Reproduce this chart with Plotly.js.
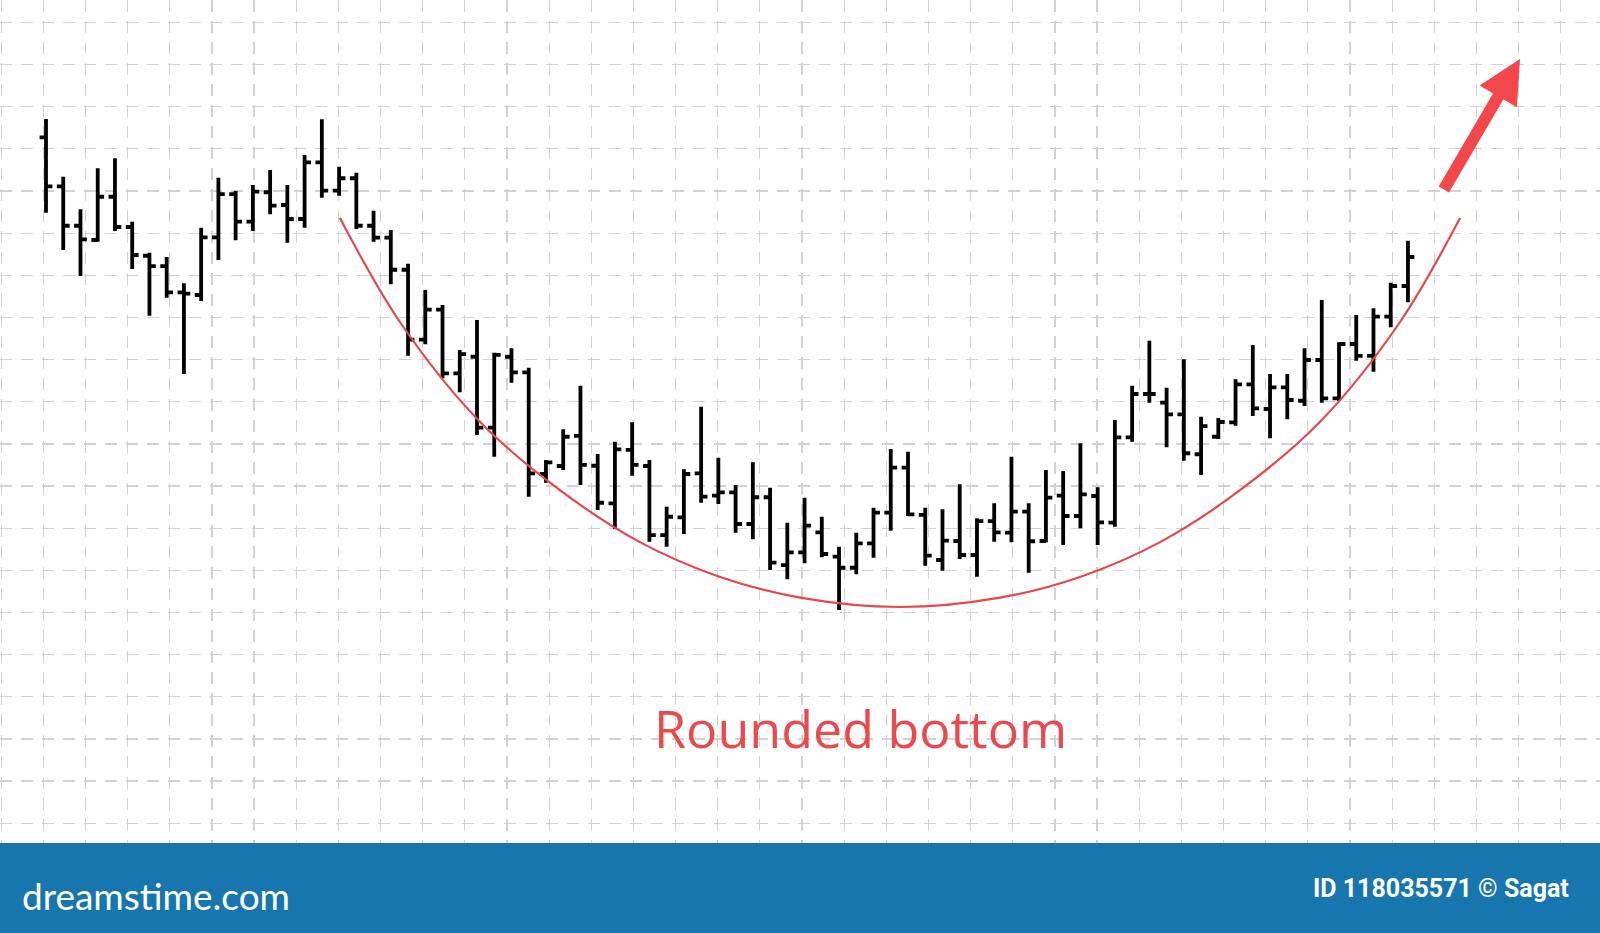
<!DOCTYPE html>
<html>
<head>
<meta charset="utf-8">
<script src="https://cdn.plot.ly/plotly-3.0.1.min.js"></script>
<style>
  html, body { margin: 0; padding: 0; background: #ffffff; }
  #chart { width: 1600px; height: 933px; }
</style>
</head>
<body>
<div id="chart"></div>
<script>
// ---- Data (price units, one bar per session) ----
const sessions = Array.from({ length: 80 }, (_, i) => i);

const openPrices = [86.37,80.56,75.88,74.19,79.32,75.73,72.32,71.10,67.98,67.66,
  74.51,79.64,76.36,79.85,78.34,76.68,83.40,80.04,81.51,75.88,
  74.46,70.66,62.36,65.92,58.37,60.34,51.92,60.34,58.49,46.43,
  47.38,50.94,47.41,42.95,49.28,47.38,39.19,41.29,46.51,43.86,
  44.26,40.50,43.67,35.63,37.14,39.51,36.62,35.31,38.21,41.84,
  47.18,41.57,36.23,38.48,36.82,40.85,39.47,41.96,38.48,43.86,
  41.45,43.82,40.65,50.78,55.92,54.89,53.51,48.77,50.85,52.56,
  57.07,54.14,56.71,55.12,59.95,55.41,61.85,60.43,65.09,68.73];

const highPrices = [88.54,81.70,77.83,82.69,83.88,76.36,72.68,72.17,69.05,75.65,
  81.58,80.00,80.71,82.49,80.71,84.27,88.51,82.88,82.17,77.66,
  75.37,71.38,68.26,66.48,61.14,64.70,60.82,61.34,59.04,48.09,
  51.73,56.90,48.80,50.26,52.56,48.09,42.55,46.99,54.41,48.36,
  45.12,47.82,44.80,40.65,43.62,41.36,37.81,39.47,42.43,49.39,
  49.07,42.43,42.24,45.21,41.17,42.95,48.48,42.95,46.90,46.79,
  50.07,44.85,52.83,56.90,62.24,56.67,60.04,53.23,53.07,57.66,
  61.73,58.29,58.29,61.34,67.07,62.05,65.29,66.09,69.12,74.10];

const lowPrices = [77.43,73.00,69.92,73.99,75.26,70.75,65.21,67.34,58.29,66.95,
  71.81,74.15,75.26,77.24,73.87,75.65,79.21,79.44,75.49,73.99,
  68.93,60.46,61.81,57.78,56.12,51.06,48.48,57.26,43.74,45.40,
  46.90,45.12,42.16,39.91,46.23,38.40,37.81,39.31,43.02,42.87,
  39.47,38.68,35.04,33.94,35.84,36.55,30.30,34.53,36.50,39.70,
  41.45,35.55,34.96,36.35,34.25,38.40,38.33,34.72,38.33,38.01,
  39.99,38.01,40.18,50.26,54.89,49.60,48.01,46.31,50.58,52.16,
  53.31,50.66,52.92,54.50,54.89,55.09,59.87,58.56,63.83,66.80];

const closePrices = [80.56,75.88,74.27,79.32,75.73,72.41,71.10,67.98,67.82,74.51,
  79.64,76.36,79.92,78.26,76.68,83.40,80.04,81.51,75.88,74.46,
  70.66,62.36,65.92,58.37,60.66,51.92,60.55,58.49,46.51,47.82,
  50.85,47.50,43.02,49.36,47.50,39.19,41.36,46.43,43.74,44.26,
  40.50,43.67,35.91,37.14,40.30,36.94,35.31,38.21,41.84,47.18,
  41.65,36.74,38.52,36.82,40.85,39.51,41.96,38.45,43.62,41.45,
  44.02,40.70,50.78,55.92,55.92,53.51,48.89,52.12,52.60,57.07,
  54.22,56.71,55.21,59.95,55.41,61.85,60.43,65.09,68.73,72.17];

// Rounded-bottom guide curve (session, price), read along the red arc
const curveX = [17.05,20.53,25.17,29.81,34.45,39.10,43.74,49.54,55.34,59.98,64.62,69.26,73.90,78.54,82.02];
const curveY = [76.79,64.46,52.62,44.51,38.35,34.22,31.76,30.65,31.76,34.22,38.35,44.51,52.62,64.46,76.79];

// Breakout arrow: [tail, tip] in (session, price)
const arrowX = [81.03, 85.50];
const arrowY = [80.00, 95.66];

const patternLabel = 'Rounded bottom';
const footerLeft = 'dreamstime.com';
const footerRight = 'ID 118035571 \u00A9 Sagat';

// ---- Traces ----
const barTrace = {
  type: 'ohlc',
  x: sessions,
  open: openPrices,
  high: highPrices,
  low: lowPrices,
  close: closePrices,
  tickwidth: 0.37,
  increasing: { line: { color: '#000000', width: 3.8 } },
  decreasing: { line: { color: '#000000', width: 3.8 } },
  hoverinfo: 'skip',
  showlegend: false
};

const curveTrace = {
  type: 'scatter',
  mode: 'lines',
  x: curveX,
  y: curveY,
  line: { color: '#e5484b', width: 2.2, shape: 'spline', smoothing: 1 },
  hoverinfo: 'skip',
  showlegend: false
};

const gridStyle = { color: '#d2d2d2', width: 1.2, dash: '12px,9px' };

const layout = {
  width: 1600,
  height: 933,
  margin: { l: 0, r: 0, t: 0, b: 90, pad: 0 },
  paper_bgcolor: '#1776ad',
  plot_bgcolor: '#ffffff',
  showlegend: false,
  hovermode: false,
  xaxis: {
    type: 'linear',
    range: [-2.668, 90.139],
    tick0: -2.599,
    dtick: 2.4449,
    showgrid: true,
    gridcolor: gridStyle.color,
    gridwidth: gridStyle.width,
    griddash: gridStyle.dash,
    zeroline: false,
    showline: false,
    showticklabels: false,
    ticks: '',
    rangeslider: { visible: false },
    fixedrange: true
  },
  yaxis: {
    type: 'linear',
    range: [2.657, 102.657],
    tick0: 0,
    dtick: 5,
    showgrid: true,
    gridcolor: gridStyle.color,
    gridwidth: gridStyle.width,
    griddash: gridStyle.dash,
    zeroline: false,
    showline: false,
    showticklabels: false,
    ticks: '',
    fixedrange: true
  },
  annotations: [
    {
      x: arrowX[1], y: arrowY[1], xref: 'x', yref: 'y',
      ax: arrowX[0], ay: arrowY[0], axref: 'x', ayref: 'y',
      text: '', showarrow: true,
      arrowhead: 2, arrowsize: 0.72, arrowwidth: 12,
      arrowcolor: '#f2484b', standoff: 0, startstandoff: 0
    },
    {
      text: patternLabel,
      xref: 'paper', yref: 'paper',
      x: 0.538, y: 0.1376,
      xanchor: 'center', yanchor: 'middle',
      showarrow: false,
      font: { family: 'Open Sans, Noto Sans, sans-serif', size: 52, color: '#ea4a4d' }
    },
    {
      text: footerLeft,
      xref: 'paper', yref: 'paper',
      x: 0.0125, y: -0.0617,
      xanchor: 'left', yanchor: 'middle',
      showarrow: false,
      font: { family: 'Lato, Noto Sans, sans-serif', size: 37, color: '#ffffff' }
    },
    {
      text: '<b>' + footerRight + '</b>',
      xref: 'paper', yref: 'paper',
      x: 0.982, y: -0.0534,
      xanchor: 'right', yanchor: 'middle',
      showarrow: false,
      font: { family: 'Roboto, Liberation Sans, sans-serif', size: 25, color: '#ffffff' }
    }
  ]
};

Plotly.newPlot('chart', [curveTrace, barTrace], layout, { staticPlot: true, displayModeBar: false });
</script>
</body>
</html>
